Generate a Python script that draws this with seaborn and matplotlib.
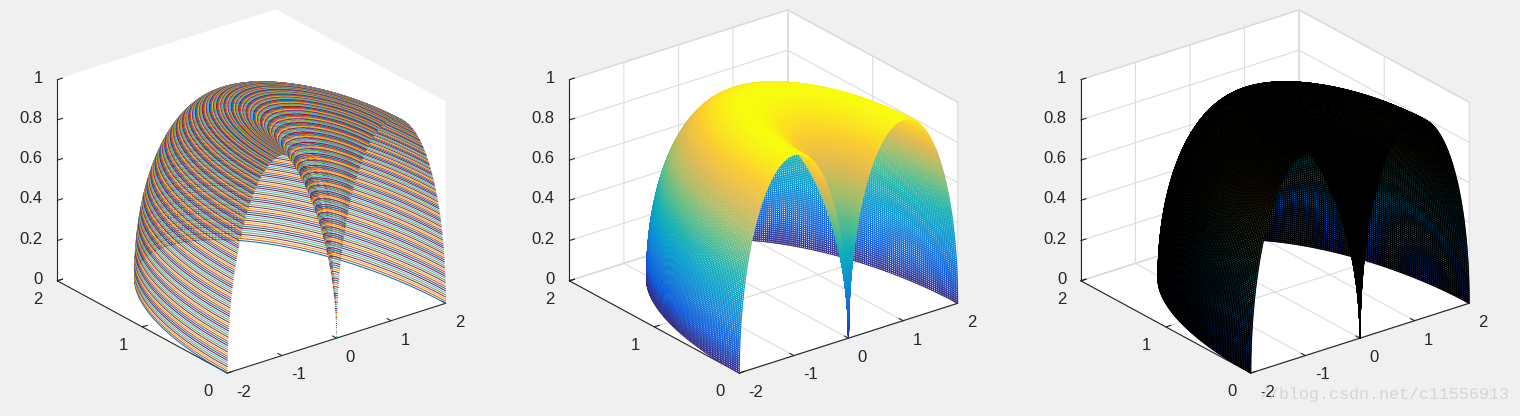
import numpy as np
import seaborn as sns
import matplotlib.pyplot as plt
from matplotlib.transforms import Affine2D

# rings of the surface (outer rim to centre)
ring_r = [2.0000, 1.9999, 1.9998, 1.9995, 1.9991, 1.9986, 1.9980, 1.9973, 1.9965, 1.9956,
          1.9945, 1.9934, 1.9921, 1.9907, 1.9893, 1.9877, 1.9860, 1.9842, 1.9823, 1.9803,
          1.9781, 1.9759, 1.9736, 1.9711, 1.9686, 1.9659, 1.9632, 1.9603, 1.9573, 1.9542,
          1.9511, 1.9478, 1.9444, 1.9409, 1.9373, 1.9336, 1.9298, 1.9259, 1.9219, 1.9178,
          1.9135, 1.9092, 1.9048, 1.9003, 1.8957, 1.8910, 1.8862, 1.8813, 1.8763, 1.8712,
          1.8660, 1.8607, 1.8554, 1.8499, 1.8443, 1.8387, 1.8329, 1.8271, 1.8211, 1.8151,
          1.8090, 1.8028, 1.7965, 1.7902, 1.7837, 1.7771, 1.7705, 1.7638, 1.7570, 1.7501,
          1.7431, 1.7361, 1.7290, 1.7218, 1.7145, 1.7071, 1.6997, 1.6921, 1.6845, 1.6769,
          1.6691, 1.6613, 1.6534, 1.6455, 1.6374, 1.6293, 1.6211, 1.6129, 1.6046, 1.5962,
          1.5878, 1.5793, 1.5707, 1.5621, 1.5534, 1.5446, 1.5358, 1.5270, 1.5180, 1.5090,
          1.5000, 1.4909, 1.4818, 1.4726, 1.4633, 1.4540, 1.4446, 1.4352, 1.4258, 1.4163,
          1.4067, 1.3971, 1.3875, 1.3778, 1.3681, 1.3584, 1.3486, 1.3387, 1.3289, 1.3190,
          1.3090, 1.2990, 1.2890, 1.2790, 1.2689, 1.2588, 1.2487, 1.2385, 1.2284, 1.2181,
          1.2079, 1.1977, 1.1874, 1.1771, 1.1668, 1.1564, 1.1461, 1.1357, 1.1253, 1.1149,
          1.1045, 1.0941, 1.0837, 1.0732, 1.0628, 1.0523, 1.0419, 1.0314, 1.0209, 1.0105,
          1.0000, 0.9895, 0.9791, 0.9686, 0.9581, 0.9477, 0.9372, 0.9268, 0.9163, 0.9059,
          0.8955, 0.8851, 0.8747, 0.8643, 0.8539, 0.8436, 0.8332, 0.8229, 0.8126, 0.8023,
          0.7921, 0.7819, 0.7716, 0.7615, 0.7513, 0.7412, 0.7311, 0.7210, 0.7110, 0.7010,
          0.6910, 0.6810, 0.6711, 0.6613, 0.6514, 0.6416, 0.6319, 0.6222, 0.6125, 0.6029,
          0.5933, 0.5837, 0.5742, 0.5648, 0.5554, 0.5460, 0.5367, 0.5274, 0.5182, 0.5091,
          0.5000, 0.4910, 0.4820, 0.4730, 0.4642, 0.4554, 0.4466, 0.4379, 0.4293, 0.4207,
          0.4122, 0.4038, 0.3954, 0.3871, 0.3789, 0.3707, 0.3626, 0.3545, 0.3466, 0.3387,
          0.3309, 0.3231, 0.3155, 0.3079, 0.3003, 0.2929, 0.2855, 0.2782, 0.2710, 0.2639,
          0.2569, 0.2499, 0.2430, 0.2362, 0.2295, 0.2229, 0.2163, 0.2098, 0.2035, 0.1972,
          0.1910, 0.1849, 0.1789, 0.1729, 0.1671, 0.1613, 0.1557, 0.1501, 0.1446, 0.1393,
          0.1340, 0.1288, 0.1237, 0.1187, 0.1138, 0.1090, 0.1043, 0.0997, 0.0952, 0.0908,
          0.0865, 0.0822, 0.0781, 0.0741, 0.0702, 0.0664, 0.0627, 0.0591, 0.0556, 0.0522,
          0.0489, 0.0458, 0.0427, 0.0397, 0.0368, 0.0341, 0.0314, 0.0289, 0.0264, 0.0241,
          0.0219, 0.0197, 0.0177, 0.0158, 0.0140, 0.0123, 0.0107, 0.0093, 0.0079, 0.0066,
          0.0055, 0.0044, 0.0035, 0.0027, 0.0020, 0.0014, 0.0009, 0.0005, 0.0002, 0.0001,
          0.0000]
ring_z = [0.0000, 0.0105, 0.0209, 0.0314, 0.0419, 0.0523, 0.0628, 0.0732, 0.0837, 0.0941,
          0.1045, 0.1149, 0.1253, 0.1357, 0.1461, 0.1564, 0.1668, 0.1771, 0.1874, 0.1977,
          0.2079, 0.2181, 0.2284, 0.2385, 0.2487, 0.2588, 0.2689, 0.2790, 0.2890, 0.2990,
          0.3090, 0.3190, 0.3289, 0.3387, 0.3486, 0.3584, 0.3681, 0.3778, 0.3875, 0.3971,
          0.4067, 0.4163, 0.4258, 0.4352, 0.4446, 0.4540, 0.4633, 0.4726, 0.4818, 0.4909,
          0.5000, 0.5090, 0.5180, 0.5270, 0.5358, 0.5446, 0.5534, 0.5621, 0.5707, 0.5793,
          0.5878, 0.5962, 0.6046, 0.6129, 0.6211, 0.6293, 0.6374, 0.6455, 0.6534, 0.6613,
          0.6691, 0.6769, 0.6845, 0.6921, 0.6997, 0.7071, 0.7145, 0.7218, 0.7290, 0.7361,
          0.7431, 0.7501, 0.7570, 0.7638, 0.7705, 0.7771, 0.7837, 0.7902, 0.7965, 0.8028,
          0.8090, 0.8151, 0.8211, 0.8271, 0.8329, 0.8387, 0.8443, 0.8499, 0.8554, 0.8607,
          0.8660, 0.8712, 0.8763, 0.8813, 0.8862, 0.8910, 0.8957, 0.9003, 0.9048, 0.9092,
          0.9135, 0.9178, 0.9219, 0.9259, 0.9298, 0.9336, 0.9373, 0.9409, 0.9444, 0.9478,
          0.9511, 0.9542, 0.9573, 0.9603, 0.9632, 0.9659, 0.9686, 0.9711, 0.9736, 0.9759,
          0.9781, 0.9803, 0.9823, 0.9842, 0.9860, 0.9877, 0.9893, 0.9907, 0.9921, 0.9934,
          0.9945, 0.9956, 0.9965, 0.9973, 0.9980, 0.9986, 0.9991, 0.9995, 0.9998, 0.9999,
          1.0000, 0.9999, 0.9998, 0.9995, 0.9991, 0.9986, 0.9980, 0.9973, 0.9965, 0.9956,
          0.9945, 0.9934, 0.9921, 0.9907, 0.9893, 0.9877, 0.9860, 0.9842, 0.9823, 0.9803,
          0.9781, 0.9759, 0.9736, 0.9711, 0.9686, 0.9659, 0.9632, 0.9603, 0.9573, 0.9542,
          0.9511, 0.9478, 0.9444, 0.9409, 0.9373, 0.9336, 0.9298, 0.9259, 0.9219, 0.9178,
          0.9135, 0.9092, 0.9048, 0.9003, 0.8957, 0.8910, 0.8862, 0.8813, 0.8763, 0.8712,
          0.8660, 0.8607, 0.8554, 0.8499, 0.8443, 0.8387, 0.8329, 0.8271, 0.8211, 0.8151,
          0.8090, 0.8028, 0.7965, 0.7902, 0.7837, 0.7771, 0.7705, 0.7638, 0.7570, 0.7501,
          0.7431, 0.7361, 0.7290, 0.7218, 0.7145, 0.7071, 0.6997, 0.6921, 0.6845, 0.6769,
          0.6691, 0.6613, 0.6534, 0.6455, 0.6374, 0.6293, 0.6211, 0.6129, 0.6046, 0.5962,
          0.5878, 0.5793, 0.5707, 0.5621, 0.5534, 0.5446, 0.5358, 0.5270, 0.5180, 0.5090,
          0.5000, 0.4909, 0.4818, 0.4726, 0.4633, 0.4540, 0.4446, 0.4352, 0.4258, 0.4163,
          0.4067, 0.3971, 0.3875, 0.3778, 0.3681, 0.3584, 0.3486, 0.3387, 0.3289, 0.3190,
          0.3090, 0.2990, 0.2890, 0.2790, 0.2689, 0.2588, 0.2487, 0.2385, 0.2284, 0.2181,
          0.2079, 0.1977, 0.1874, 0.1771, 0.1668, 0.1564, 0.1461, 0.1357, 0.1253, 0.1149,
          0.1045, 0.0941, 0.0837, 0.0732, 0.0628, 0.0523, 0.0419, 0.0314, 0.0209, 0.0105,
          0.0000]
spoke_deg = [0.0, 0.6, 1.2, 1.8, 2.4, 3.0, 3.6, 4.2, 4.8, 5.4,
             6.0, 6.6, 7.2, 7.8, 8.4, 9.0, 9.6, 10.2, 10.8, 11.4,
             12.0, 12.6, 13.2, 13.8, 14.4, 15.0, 15.6, 16.2, 16.8, 17.4,
             18.0, 18.6, 19.2, 19.8, 20.4, 21.0, 21.6, 22.2, 22.8, 23.4,
             24.0, 24.6, 25.2, 25.8, 26.4, 27.0, 27.6, 28.2, 28.8, 29.4,
             30.0, 30.6, 31.2, 31.8, 32.4, 33.0, 33.6, 34.2, 34.8, 35.4,
             36.0, 36.6, 37.2, 37.8, 38.4, 39.0, 39.6, 40.2, 40.8, 41.4,
             42.0, 42.6, 43.2, 43.8, 44.4, 45.0, 45.6, 46.2, 46.8, 47.4,
             48.0, 48.6, 49.2, 49.8, 50.4, 51.0, 51.6, 52.2, 52.8, 53.4,
             54.0, 54.6, 55.2, 55.8, 56.4, 57.0, 57.6, 58.2, 58.8, 59.4,
             60.0, 60.6, 61.2, 61.8, 62.4, 63.0, 63.6, 64.2, 64.8, 65.4,
             66.0, 66.6, 67.2, 67.8, 68.4, 69.0, 69.6, 70.2, 70.8, 71.4,
             72.0, 72.6, 73.2, 73.8, 74.4, 75.0, 75.6, 76.2, 76.8, 77.4,
             78.0, 78.6, 79.2, 79.8, 80.4, 81.0, 81.6, 82.2, 82.8, 83.4,
             84.0, 84.6, 85.2, 85.8, 86.4, 87.0, 87.6, 88.2, 88.8, 89.4,
             90.0, 90.6, 91.2, 91.8, 92.4, 93.0, 93.6, 94.2, 94.8, 95.4,
             96.0, 96.6, 97.2, 97.8, 98.4, 99.0, 99.6, 100.2, 100.8, 101.4,
             102.0, 102.6, 103.2, 103.8, 104.4, 105.0, 105.6, 106.2, 106.8, 107.4,
             108.0, 108.6, 109.2, 109.8, 110.4, 111.0, 111.6, 112.2, 112.8, 113.4,
             114.0, 114.6, 115.2, 115.8, 116.4, 117.0, 117.6, 118.2, 118.8, 119.4,
             120.0, 120.6, 121.2, 121.8, 122.4, 123.0, 123.6, 124.2, 124.8, 125.4,
             126.0, 126.6, 127.2, 127.8, 128.4, 129.0, 129.6, 130.2, 130.8, 131.4,
             132.0, 132.6, 133.2, 133.8, 134.4, 135.0, 135.6, 136.2, 136.8, 137.4,
             138.0, 138.6, 139.2, 139.8, 140.4, 141.0, 141.6, 142.2, 142.8, 143.4,
             144.0, 144.6, 145.2, 145.8, 146.4, 147.0, 147.6, 148.2, 148.8, 149.4,
             150.0, 150.6, 151.2, 151.8, 152.4, 153.0, 153.6, 154.2, 154.8, 155.4,
             156.0, 156.6, 157.2, 157.8, 158.4, 159.0, 159.6, 160.2, 160.8, 161.4,
             162.0, 162.6, 163.2, 163.8, 164.4, 165.0, 165.6, 166.2, 166.8, 167.4,
             168.0, 168.6, 169.2, 169.8, 170.4, 171.0, 171.6, 172.2, 172.8, 173.4,
             174.0, 174.6, 175.2, 175.8, 176.4, 177.0, 177.6, 178.2, 178.8, 179.4,
             180.0]

x_ticks = [-2, -1, 0, 1, 2]
y_ticks = [0, 1, 2]
z_ticks = [0, 0.2, 0.4, 0.6, 0.8, 1]
z_labels = ['0', '0.2', '0.4', '0.6', '0.8', '1']

line_colors = ['#0072BD', '#D95319', '#EDB120', '#7E2F8E', '#77AC30', '#4DBEEE', '#A2142F']
# the older parula, the muted one
parula = [(0.2081, 0.1663, 0.5292), (0.0591, 0.3598, 0.8683), (0.0723, 0.4887, 0.8467),
          (0.0265, 0.6137, 0.8135), (0.0843, 0.6928, 0.7062), (0.3482, 0.7424, 0.5473),
          (0.6473, 0.7456, 0.4188), (0.8824, 0.7274, 0.3217), (0.9880, 0.8066, 0.1794),
          (0.9763, 0.9831, 0.0538)]

sns.set_style('white')
plt.rcParams['font.family'] = ['Liberation Sans', 'DejaVu Sans']
plt.rcParams['axes.unicode_minus'] = False

W, H = 1520, 416
fig = plt.figure(figsize=(W / 100, H / 100), dpi=100, facecolor='#f0f0f0')

SIDE = 437
cmap = sns.blend_palette(parula, n_colors=64, as_cmap=True)
palette = sns.color_palette(line_colors)

theta = np.deg2rad(spoke_deg)
R = np.array(ring_r)
Z = np.outer(np.array(ring_z), np.ones(len(theta)))
X = np.outer(R, np.cos(theta))
Y = np.outer(R, np.sin(theta))


def nudge(labels, ax, ha, dx, dy):
    # mplot3d resets the label transform on every draw, so block that
    for lab in labels:
        lab.set_ha(ha)
        lab.set_va('bottom')
        lab.set_transform(ax.transData + Affine2D().translate(dx, dy))
        lab.set_transform = lambda t: None


def make_axes(cx, cy, grid):
    left = cx - 0.5135 * SIDE
    bottom = (H - cy) - 0.5135 * SIDE
    ax = fig.add_axes([left / W, bottom / H, SIDE / W, SIDE / H], projection='3d', proj_type='ortho')
    ax.patch.set_visible(False)
    ax.view_init(elev=24.6, azim=-127.5)
    ax.set_box_aspect((275, 279, 221))
    ax.set_xlim(-2, 2)
    ax.set_ylim(0, 2)
    ax.set_zlim(0, 1)
    ax.set_xticks(x_ticks)
    ax.set_yticks(y_ticks)
    ax.set_zticks(z_ticks)
    ax.set_zticklabels(z_labels)
    ax.tick_params(labelsize=12, colors='#262626')
    ax.xaxis.set_tick_params(pad=2)
    ax.yaxis.set_tick_params(pad=3)
    ax.zaxis.set_tick_params(pad=-1)
    nudge(ax.get_xticklabels(), ax, 'left', -1, -9)
    nudge(ax.get_yticklabels(), ax, 'right', 0, -8)
    nudge(ax.get_zticklabels(), ax, 'right', 2, -7)
    ax.grid(grid)
    for axis in (ax.xaxis, ax.yaxis, ax.zaxis):
        axis.set_pane_color('white')
        axis.pane.set_edgecolor('#d9d9d9' if grid else 'white')
        axis.line.set_color('#262626')
        axis.line.set_linewidth(0.8)
        axis._axinfo['grid'].update(color='#dcdcdc', linewidth=0.8)
        axis._axinfo['tick'].update(inward_factor=0.0, outward_factor=0.3, linewidth={True: 0.8, False: 0.8})
    return ax


# lines only, one per ring
ax1 = make_axes(251.5, 191.5, False)
for i in range(len(ring_r)):
    ax1.plot(X[i], Y[i], Z[i], color=palette[i % 7], lw=0.75)

# mesh: white faces with lines coloured by height
ax2 = make_axes(763.5, 191.5, True)
colors = cmap(Z)
surf2 = ax2.plot_surface(X, Y, Z, rstride=1, cstride=1, facecolors=colors, shade=False)
surf2.set_facecolor('white')
surf2.set_edgecolor(colors[:-1, :-1].reshape(-1, 4))
surf2.set_linewidth(0.7)

# surface: coloured faces with black edges
ax3 = make_axes(1275, 191.5, True)
surf3 = ax3.plot_surface(X, Y, Z, rstride=1, cstride=1, facecolors=colors, shade=False)
surf3.set_edgecolor('black')
surf3.set_linewidth(0.75)

fig.text(1259 / W, (H - 395) / H, '//blog.csdn.net/c11556913', fontsize=12, color='#d6d6d2',
         va='center', family=['Liberation Mono'])

fig.savefig('out.png', dpi=100, facecolor=fig.get_facecolor())
